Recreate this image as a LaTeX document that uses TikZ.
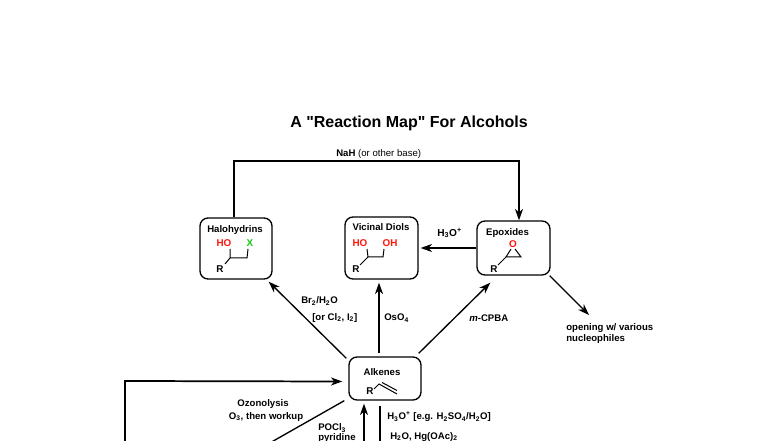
\documentclass[tikz,border=0pt]{standalone}
\usepackage{fontspec}
\setmainfont{Liberation Sans}
\newfontfamily\titlefont{Liberation Sans}
\usetikzlibrary{arrows.meta}
\definecolor{hored}{RGB}{255,20,10}
\definecolor{xgreen}{RGB}{20,200,20}
\newcommand{\sub}[1]{\textsubscript{#1}}
\newcommand{\sups}[1]{\textsuperscript{#1}}
\tikzset{
  x=0.75pt,y=-0.75pt,
  box/.style={draw,line width=1pt,rounded corners=6pt,inner sep=0pt},
  lab/.style={font=\fontsize{7.2pt}{8.2pt}\selectfont\bfseries,inner sep=0pt,anchor=west},
  labc/.style={lab,anchor=center,align=center},
  boxtitle/.style={font=\fontsize{7.2pt}{8.2pt}\selectfont\bfseries,inner sep=0pt},
  atom/.style={font=\fontsize{7.4pt}{8.2pt}\selectfont\bfseries,inner sep=0pt},
  bond/.style={line width=0.75pt},
  conn/.style={line width=1pt},
  arr/.style={conn,-{Stealth[length=8.5pt,width=6pt,inset=2.5pt]}},
}
\begin{document}
\begin{tikzpicture}
\useasboundingbox (0,0) rectangle (784,441);
\clip (0,0) rectangle (784,441);
\fill[white] (0,0) rectangle (784,441);
% title
\node[font=\titlefont\fontsize{12pt}{14pt}\selectfont\bfseries,inner sep=0pt] (title) at (409,123) {A "Reaction Map" For Alcohols};
% boxes
\node[box,minimum width=54pt,minimum height=45.75pt] (halo) at (236,248.5) {};
\node[box,minimum width=54.75pt,minimum height=46.5pt] (vic) at (381.5,248) {};
\node[box,minimum width=54.75pt,minimum height=40.5pt] (ep) at (513.5,248) {};
\node[box,minimum width=54pt,minimum height=32.25pt] (alk) at (385,378.5) {};
\node[boxtitle] (halot) at (235,230) {Halohydrins};
\node[boxtitle] (vict) at (381,227) {Vicinal Diols};
\node[boxtitle] (ept) at (507.5,233) {Epoxides};
\node[boxtitle] (alkt) at (382,372) {Alkenes};
% halohydrin
\node[atom,text=hored] (h1) at (224,243.5) {HO};
\node[atom,text=xgreen] (h2) at (250,243.5) {X};
\node[atom] (h3) at (220,269.5) {R};
\draw[bond] (230,249) -- (230,258) -- (247,258) -- (248,249);
\draw[bond] (230,258) -- (225,264);
% diol
\node[atom,text=hored] (v1) at (360,243) {HO};
\node[atom,text=hored] (v2) at (390,243) {OH};
\node[atom] (v3) at (356,269) {R};
\draw[bond] (367,249) -- (368,257) -- (383,257) -- (384,249);
\draw[bond] (368,257) -- (360,265);
% epoxide
\node[atom,text=hored] (e1) at (513,244) {O};
\node[atom] (e2) at (494,269) {R};
\draw[bond] (511,249) -- (506,257) -- (521,257) -- (515,249);
\draw[bond] (506,257) -- (498,265);
% alkene
\node[atom] (a1) at (370,391) {R};
\draw[bond] (374,389) -- (379,384) -- (397,394);
\draw[bond] (382,382.5) -- (397,390.5);
% free ends
\coordinate (topr) at (519,161);
\coordinate (nucl) at (589,315);
\coordinate (leftb) at (125,446);
\coordinate (leftt) at (125,381);
\coordinate (ozb) at (268,444);
\coordinate (pocb) at (364,446);
\coordinate (acidb) at (380,446);
% connectors
\draw[arr] ([shift={(-2,0)}]halo.north) |- (topr) -- ([shift={(5.5,0)}]ep.north);
\draw[arr] (ep.west) -- ([shift={(2,0)}]vic.east);
\draw[arr] ([shift={(-2,2)}]alk.north west) -- ([shift={(-4,2)}]halo.south east);
\draw[arr] ([shift={(-6,-3)}]alk.north) -- ([shift={(-2.5,3)}]vic.south);
\draw[arr] ([shift={(-3,-3)}]alk.north east) -- ([shift={(14,7)}]ep.south west);
\draw[arr] ([shift={(-1,0)}]ep.south east) -- (nucl);
\draw[arr,line width=1.3pt] (leftb) -- (leftt) -- ([shift={(-6,3)}]alk.west);
\draw[conn] ([shift={(-4,0)}]alk.south west) -- (ozb);
\draw[arr] (pocb) -- ([shift={(-21,3)}]alk.south);
\draw[conn,line width=1.3pt] ([shift={(-5,5)}]alk.south) -- (acidb);
% labels
\node[lab] (l1) at (336,154) {NaH \mdseries (or other base)};
\node[lab,font=\fontsize{7.6pt}{9pt}\selectfont\bfseries] (l2) at (437,233) {H\sub{3}O\sups{+}};
\node[lab] (l3) at (301,301) {Br\sub{2}/H\sub{2}O};
\node[lab] (l4) at (312,318) {[or Cl\sub{2}, I\sub{2}]};
\node[lab] (l5) at (384,318) {OsO\sub{4}};
\node[lab] (l6) at (469,318) {\itshape m\upshape -CPBA};
\node[lab,align=left] (l7) at (566,333.5) {opening w/ various\\nucleophiles};
\node[labc] (l8) at (263,404) {Ozonolysis};
\node[labc] (l9) at (266,417) {O\sub{3}, then workup};
\node[lab] (l10) at (318,428) {POCl\sub{3}};
\node[lab] (l11) at (318,438) {pyridine};
\node[lab] (l12) at (387,417) {H\sub{3}O\sups{+} [e.g. H\sub{2}SO\sub{4}/H\sub{2}O]};
\node[lab] (l13) at (390,437) {H\sub{2}O, Hg(OAc)\sub{2}};
\end{tikzpicture}
\end{document}
